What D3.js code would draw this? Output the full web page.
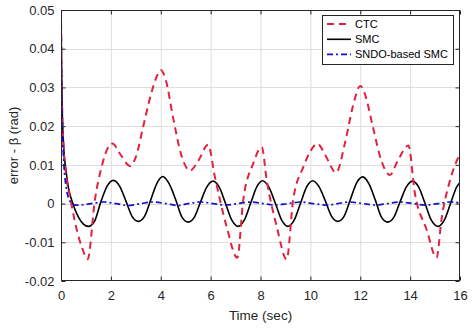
<!DOCTYPE html>
<html>
<head>
<meta charset="utf-8">
<script src="https://cdn.jsdelivr.net/npm/d3@7"></script>
<style>
  html, body { margin: 0; padding: 0; background: #fff; }
  svg { display: block; font-family: "Liberation Sans", Arial, sans-serif; }
</style>
</head>
<body>
<svg id="chart" width="474" height="328"></svg>
<script>
// ---- Data ----
const xTicks = [0, 2, 4, 6, 8, 10, 12, 14, 16];
const yTicks = [-0.02, -0.01, 0, 0.01, 0.02, 0.03, 0.04, 0.05];
const yTickLabels = ["-0.02", "-0.01", "0", "0.01", "0.02", "0.03", "0.04", "0.05"];
const seriesNames = ["CTC", "SMC", "SNDO-based SMC"];

const ctcTime = [0, 0.02, 0.05, 0.1, 0.2, 0.36, 0.63, 0.85, 1.07, 1.36, 1.63, 1.85, 2.06, 2.4, 2.77, 3.0, 3.3, 3.6, 3.85, 4.0, 4.2, 4.5, 4.85, 5.17, 5.5, 5.9, 6.17, 6.64, 7.07, 7.31, 7.71, 8.05, 8.25, 8.65, 9.05, 9.31, 9.72, 10.0, 10.28, 10.6, 11.03, 11.4, 11.7, 12.0, 12.2, 12.5, 12.85, 13.19, 13.5, 13.93, 14.19, 14.66, 15.06, 15.26, 15.6, 16.0];
const ctcValue = [0.05, 0.036, 0.024, 0.015, 0.0075, 0.0018, -0.0067, -0.0115, -0.0144, 0.001, 0.0095, 0.014, 0.0155, 0.0125, 0.0097, 0.012, 0.02, 0.028, 0.033, 0.0345, 0.032, 0.022, 0.012, 0.0085, 0.011, 0.0152, 0.0069, -0.0059, -0.014, 0.001, 0.0104, 0.0146, 0.006, -0.0059, -0.0144, 0.001, 0.0095, 0.0135, 0.0155, 0.0125, 0.008, 0.016, 0.025, 0.0304, 0.028, 0.02, 0.011, 0.0074, 0.011, 0.015, 0.0027, -0.0067, -0.014, -0.004, 0.006, 0.0129];

const smcTime = [0, 0.02, 0.05, 0.1, 0.2, 0.3, 0.4, 0.5, 0.7, 0.9, 1.1, 1.35, 1.6, 1.85, 2.1, 2.35, 2.6, 2.85, 3.1, 3.35, 3.6, 3.85, 4.08, 4.33, 4.6, 4.85, 5.1, 5.35, 5.6, 5.85, 6.1, 6.35, 6.6, 6.85, 7.1, 7.35, 7.6, 7.85, 8.08, 8.33, 8.6, 8.85, 9.1, 9.35, 9.6, 9.85, 10.1, 10.35, 10.6, 10.85, 11.1, 11.35, 11.6, 11.85, 12.1, 12.35, 12.6, 12.85, 13.1, 13.35, 13.6, 13.85, 14.1, 14.35, 14.6, 14.85, 15.12, 15.37, 15.62, 15.87, 16.0];
const smcValue = [0.05, 0.036, 0.024, 0.0155, 0.0085, 0.004, 0.0015, -0.0005, -0.0035, -0.0053, -0.0059, -0.0045, 0.0005, 0.0045, 0.006, 0.0045, 0.0007, -0.0033, -0.0046, -0.0033, 0.001, 0.0053, 0.007, 0.0052, 0.001, -0.0035, -0.0048, -0.0035, 0.0005, 0.0043, 0.0058, 0.0042, 0.0, -0.0043, -0.0059, -0.0043, 0.0, 0.0043, 0.0059, 0.0043, 0.0, -0.0043, -0.0059, -0.0043, 0.0, 0.0043, 0.0059, 0.0043, 0.0007, -0.0033, -0.0046, -0.0033, 0.001, 0.0053, 0.0069, 0.0051, 0.001, -0.0035, -0.0048, -0.0035, 0.0005, 0.0043, 0.0058, 0.0042, 0.0, -0.0043, -0.0059, -0.0043, 0.0, 0.0043, 0.0054];

const sndoTime = [0, 0.02, 0.05, 0.1, 0.2, 0.3, 0.45, 0.6, 0.9, 1.3, 1.7, 2.2, 2.7, 3.2, 3.65, 4.2, 4.7, 5.1, 5.6, 6.1, 6.6, 7.1, 7.6, 8.1, 8.6, 9.1, 9.6, 10.1, 10.7, 11.1, 11.6, 12.1, 12.6, 13.1, 13.6, 14.1, 14.6, 15.1, 15.6, 16.0];
const sndoValue = [0.05, 0.034, 0.021, 0.012, 0.0045, 0.0015, 0.0, -0.0004, -0.0003, 0.0001, 0.0004, 0.0, -0.0005, 0.0, 0.0004, 0.0, -0.0005, 0.0, 0.0004, 0.0, -0.0004, 0.0, 0.0004, 0.0, -0.0004, 0.0, 0.0004, 0.0, -0.0004, 0.0, 0.0004, 0.0, -0.0004, 0.0, 0.0004, 0.0, -0.0004, 0.0, 0.0004, 0.0002];

// ---- Layout ----
const plot = { left: 61, right: 460, top: 10, bottom: 281 };
const axisColor = "#262626";
const gridColor = "#dedede";

const svg = d3.select("#chart");
const x = d3.scaleLinear().domain([0, 16]).range([plot.left, plot.right]);
const y = d3.scaleLinear().domain([-0.02, 0.05]).range([plot.bottom, plot.top]);

svg.append("rect").attr("x", 0).attr("y", 0).attr("width", 474).attr("height", 328).attr("fill", "#fff");
svg.append("rect").attr("x", plot.left).attr("y", plot.top)
  .attr("width", plot.right - plot.left).attr("height", plot.bottom - plot.top).attr("fill", "#fff");

// grid
const grid = svg.append("g");
grid.selectAll("line.gx").data(xTicks.slice(1, -1)).enter().append("line")
  .attr("x1", d => x(d) + 0.5).attr("x2", d => x(d) + 0.5)
  .attr("y1", plot.top).attr("y2", plot.bottom)
  .attr("stroke", gridColor).attr("stroke-width", 1);
grid.selectAll("line.gy").data(yTicks.slice(1, -1)).enter().append("line")
  .attr("y1", d => Math.round(y(d)) + 0.5).attr("y2", d => Math.round(y(d)) + 0.5)
  .attr("x1", plot.left).attr("x2", plot.right)
  .attr("stroke", gridColor).attr("stroke-width", 1);

// clip
svg.append("clipPath").attr("id", "clip").append("rect")
  .attr("x", plot.left).attr("y", plot.top)
  .attr("width", plot.right - plot.left).attr("height", plot.bottom - plot.top);

const line = d3.line().x(d => x(d[0])).y(d => y(d[1])).curve(d3.curveMonotoneX);
const zipS = (t, v) => t.map((tt, i) => [tt, v[i]]);

const lines = svg.append("g").attr("clip-path", "url(#clip)");
const series = [
  { name: seriesNames[0], data: zipS(ctcTime, ctcValue), color: "#e3203f", width: 2, dash: "7,5" },
  { name: seriesNames[1], data: zipS(smcTime, smcValue), color: "#000000", width: 1.6, dash: null },
  { name: seriesNames[2], data: zipS(sndoTime, sndoValue), color: "#1212c8", width: 1.7, dash: "6,3,2,3" }
];
// draw black first, then blue, then red? keep reference order: red, black, blue on top
[series[1], series[0], series[2]].forEach(s => {
  lines.append("path").datum(s.data)
    .attr("d", line).attr("fill", "none")
    .attr("stroke", s.color).attr("stroke-width", s.width)
    .attr("stroke-dasharray", s.dash)
    .attr("stroke-linejoin", "round");
});

// axes box
svg.append("rect").attr("x", plot.left + 0.5).attr("y", plot.top + 0.5)
  .attr("width", plot.right - plot.left - 1).attr("height", plot.bottom - plot.top - 1)
  .attr("fill", "none").attr("stroke", axisColor).attr("stroke-width", 1);

// axes with inward ticks (MATLAB style)
const tickLen = 4;
const xAxisB = d3.axisBottom(x).tickValues(xTicks).tickSize(-tickLen).tickPadding(10).tickFormat(d3.format("d"));
const gxb = svg.append("g").attr("transform", `translate(0,${plot.bottom - 0.5})`).call(xAxisB);
const xAxisT = d3.axisTop(x).tickValues(xTicks).tickSize(-tickLen).tickFormat("");
const gxt = svg.append("g").attr("transform", `translate(0,${plot.top + 0.5})`).call(xAxisT);
const yAxisL = d3.axisLeft(y).tickValues(yTicks).tickSize(-tickLen).tickPadding(7)
  .tickFormat((d, i) => yTickLabels[i]);
const gyl = svg.append("g").attr("transform", `translate(${plot.left + 0.5},0)`).call(yAxisL);
const yAxisR = d3.axisRight(y).tickValues(yTicks).tickSize(-tickLen).tickFormat("");
const gyr = svg.append("g").attr("transform", `translate(${plot.right - 0.5},0)`).call(yAxisR);

[gxb, gxt, gyl, gyr].forEach(g => {
  g.select(".domain").remove();
  g.selectAll(".tick line").attr("stroke", axisColor);
  g.selectAll(".tick text").attr("fill", axisColor)
    .style("font-family", "'Liberation Sans', Arial, sans-serif").style("font-size", "13px");
});

// axis labels
svg.append("text").attr("x", (plot.left + plot.right) / 2).attr("y", 320)
  .attr("text-anchor", "middle").attr("fill", axisColor)
  .style("font-size", "13.5px").text("Time (sec)");
svg.append("text").attr("transform", `translate(18,${(plot.top + plot.bottom) / 2}) rotate(-90)`)
  .attr("text-anchor", "middle").attr("fill", axisColor)
  .style("font-size", "13px").text("error - β (rad)");

// legend
const leg = svg.append("g");
leg.append("rect").attr("x", 322.5).attr("y", 15.5).attr("width", 131).attr("height", 49)
  .attr("fill", "#fff").attr("stroke", axisColor).attr("stroke-width", 1);
const legY = [24, 39.3, 54.3];
series.forEach((s, i) => {
  leg.append("line").attr("x1", 327).attr("x2", 351).attr("y1", legY[i]).attr("y2", legY[i])
    .attr("stroke", s.color).attr("stroke-width", s.width).attr("stroke-dasharray", s.dash);
  leg.append("text").attr("x", 355).attr("y", legY[i]).attr("dy", "0.36em")
    .attr("fill", "#000").style("font-size", "11px").text(s.name);
});
</script>
</body>
</html>
